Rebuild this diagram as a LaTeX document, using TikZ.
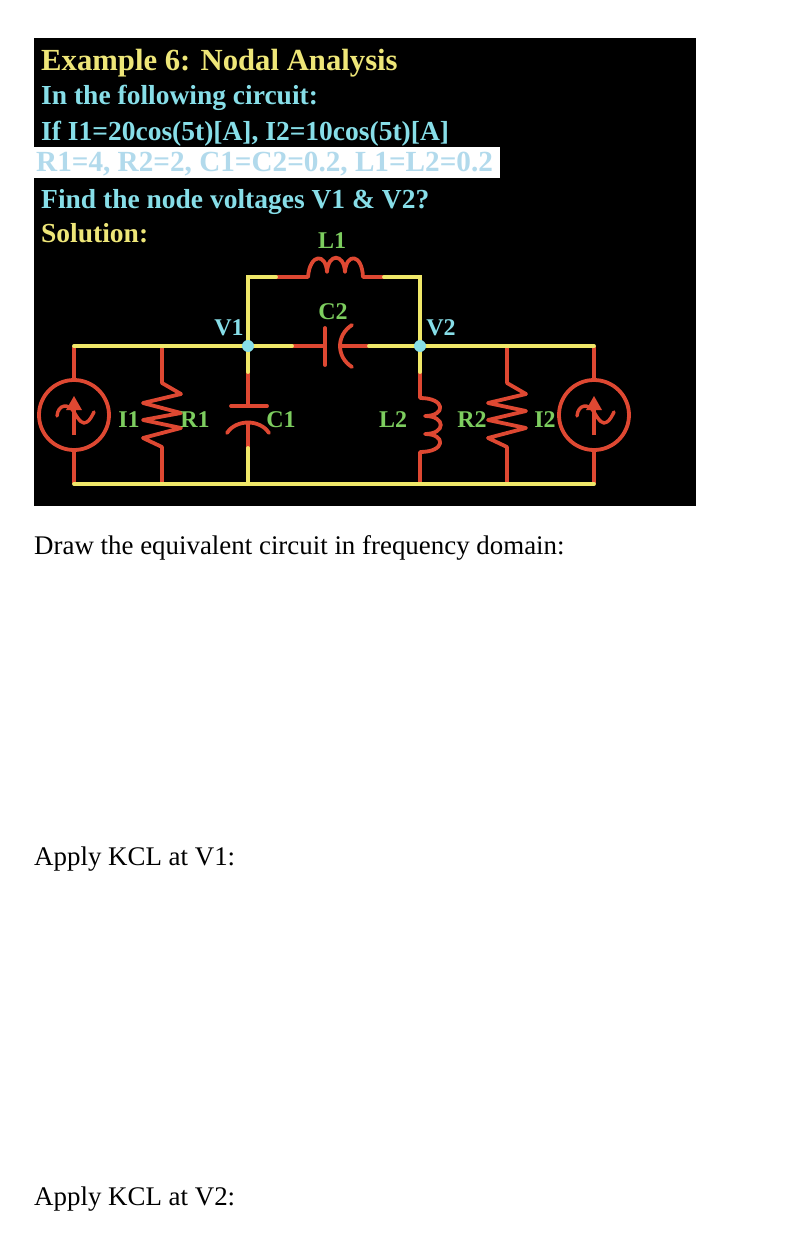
\documentclass[tikz,border=0pt]{standalone}
\usepackage{fontspec}
\setmainfont{Liberation Serif}
\usepackage{xcolor}
\definecolor{wireyellow}{RGB}{240,232,105}
\definecolor{partred}{RGB}{222,72,50}
\definecolor{labelgreen}{RGB}{125,205,95}
\definecolor{slidecyan}{RGB}{135,222,232}
\definecolor{slideyellow}{RGB}{238,230,120}
\definecolor{fadedblue}{RGB}{178,218,236}
\tikzstyle{wire} = [line width=3.8pt,color=wireyellow,line cap=round]
\tikzstyle{part} = [line width=3.8pt,color=partred,line join=round]
\tikzstyle{slideline} = [anchor=base west,inner sep=0pt,font=\bfseries\fontsize{27.5}{30}\selectfont]
\tikzstyle{pagetext} = [anchor=base west,inner sep=0pt,text=black,font=\fontsize{26.9}{30}\selectfont]
\tikzstyle{partlabel} = [inner sep=0pt,text=labelgreen,font=\bfseries\fontsize{24}{26}\selectfont]
\tikzstyle{nodelabel} = [inner sep=0pt,text=slidecyan,font=\bfseries\fontsize{24}{26}\selectfont]
\tikzstyle{source} = [draw=partred,line width=3.8pt,circle,minimum size=70pt,inner sep=0pt]

\begin{document}
\begin{tikzpicture}[x=1pt,y=-1pt]
\useasboundingbox (0,0) rectangle (800,1260);
% Slide background
\fill[black] (34,38) rectangle (696,506);
\fill[white] (34,147) rectangle (500,178);

% Slide text
\node[slideline,text=slideyellow,font=\bfseries\fontsize{30.7}{33}\selectfont] (title) at (41,71) {Example 6: Nodal Analysis};
\node[slideline,text=slidecyan] (intro) at (41,105) {In the following circuit:};
\node[slideline,text=slidecyan] (given) at (41,141) {If I1=20cos(5t)[A], I2=10cos(5t)[A]};
\node[slideline,text=fadedblue,font=\bfseries\fontsize{29.2}{31}\selectfont] (values) at (36,172) {R1=4, R2=2, C1=C2=0.2, L1=L2=0.2};
\node[slideline,text=slidecyan] (find) at (41,208) {Find the node voltages V1 \& V2?};
\node[slideline,text=slideyellow] (solution) at (41,242) {Solution:};

% Corners and nodes of the circuit
\coordinate (TL) at (74,346);
\coordinate (TR) at (594,346);
\coordinate (BL) at (74,484);
\coordinate (BR) at (594,484);
\coordinate (V1) at (248,346);
\coordinate (V2) at (420,346);
\coordinate (V1top) at (248,277);
\coordinate (V2top) at (420,277);
\coordinate (V1bot) at (248,484);
\coordinate (V2bot) at (420,484);
\coordinate (Rone) at (162,346);
\coordinate (Rtwo) at (507,346);
\coordinate (Ronebot) at (162,484);
\coordinate (Rtwobot) at (507,484);

% Current sources
\foreach \cx/\srcname in {74/Ione,594/Itwo} {
  \node[source] (\srcname) at (\cx,415) {};
  \begin{scope}[shift={(\cx,415)}]
    \draw[part,line width=3.4pt] (0,20) -- (0,-6);
    \fill[partred] (0,-19) -- (8,-5) -- (-8,-5) -- cycle;
    \draw[part,line width=3.4pt,line cap=round] (-17,1) .. controls (-16,-11) and (-5,-12) .. (0,-3)
      .. controls (5,6) and (9,10) .. (13,7) .. controls (16,5) and (18,1) .. (20,-3);
  \end{scope}
}

% Red parts
\draw[part] (TL) -- (Ione.north);
\draw[part] (Ione.south) -- (BL);
\draw[part] (TR) -- (Itwo.north);
\draw[part] (Itwo.south) -- (BR);
% R1 and R2
\draw[part] (Rone) -- (162,383) -- (181,394) -- (143,403) -- (181,413) -- (143,420) -- (181,428) -- (143,438) -- (162,447) -- (Ronebot);
\draw[part] (Rtwo) -- (507,383) -- (526,394) -- (488,403) -- (526,411) -- (488,420) -- (526,428) -- (488,438) -- (507,447) -- (Rtwobot);
% C1
\draw[part] (248,372) -- (248,406);
\draw[part,line cap=round] (231,406) -- (267,406);
\draw[part,line cap=round] (227,433) .. controls (236,419) and (260,419) .. (269,433);
\draw[part] (248,423) -- (248,448);
% C2
\draw[part] (292,346) -- (325,346);
\draw[part,line cap=round] (325,328) -- (325,365);
\draw[part,line cap=round] (352,325) .. controls (336,335) and (336,357) .. (352,367);
\draw[part] (340,346) -- (369,346);
% L1
\draw[part] (276,277) -- (308,277) .. controls (310,253) and (326,253) .. (327,272)
  .. controls (328,253) and (344,253) .. (345,272)
  .. controls (346,253) and (362,253) .. (363,277) -- (384,277);
% L2
\draw[part] (420,372) -- (420,398) .. controls (446,398) and (446,416) .. (425,416)
  .. controls (446,416) and (446,434) .. (425,434)
  .. controls (446,434) and (446,452) .. (420,452) -- (V2bot);

% Yellow wires
\draw[wire] (TL) -- (V1) -- (292,346);
\draw[wire] (369,346) -- (V2) -- (TR);
\draw[wire] (BL) -- (V1bot) -- (V2bot) -- (BR);
\draw[wire] (276,277) -- (V1top) -- (V1) -- (248,372);
\draw[wire] (384,277) -- (V2top) -- (V2) -- (420,372);
\draw[wire] (248,448) -- (V1bot);

% Junction dots
\fill[slidecyan] (V1) circle (6);
\fill[slidecyan] (V2) circle (6);

% Labels
\node[partlabel] (labelLone) at (332,241) {L1};
\node[partlabel] (labelCtwo) at (333,312) {C2};
\node[partlabel] (labelIone) at (129,420) {I1};
\node[partlabel] (labelRone) at (195,420) {R1};
\node[partlabel] (labelCone) at (281,420) {C1};
\node[partlabel] (labelLtwo) at (393,420) {L2};
\node[partlabel] (labelRtwo) at (472,420) {R2};
\node[partlabel] (labelItwo) at (545,420) {I2};
\node[nodelabel] (labelVone) at (229,328) {V1};
\node[nodelabel] (labelVtwo) at (441,328) {V2};

% Text under the slide
\node[pagetext] (draw) at (34,554) {Draw the equivalent circuit in frequency domain:};
\node[pagetext] (kclone) at (34,865) {Apply KCL at V1:};
\node[pagetext] (kcltwo) at (34,1205) {Apply KCL at V2:};
\end{tikzpicture}
\end{document}
